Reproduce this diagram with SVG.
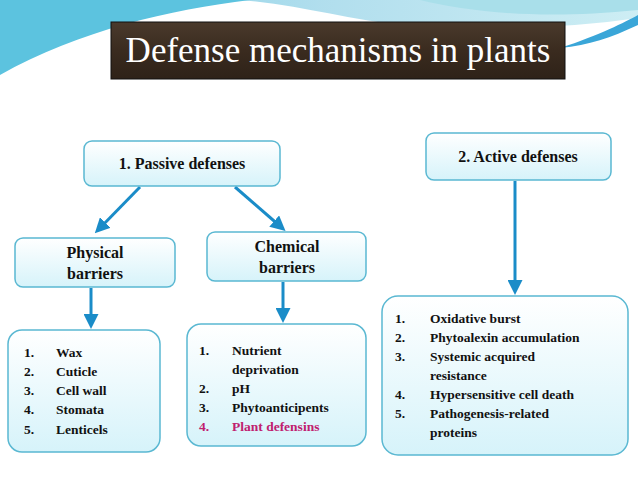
<svg xmlns="http://www.w3.org/2000/svg" width="638" height="479" viewBox="0 0 638 479">
<style>
.box{fill:url(#g);stroke:#5ab8d2;stroke-width:1.5}
.t{font-family:"Liberation Serif",serif;font-weight:bold;font-size:16px;fill:#111}
.l{font-family:"Liberation Serif",serif;font-weight:bold;font-size:13.5px;fill:#111}
.c{stroke:#1a8cc8;stroke-width:3;fill:none;marker-end:url(#a)}
.title{font-family:"Liberation Serif",serif;font-size:35px;fill:#fff}
</style>
<defs>
<linearGradient id="g" x1="0" y1="0" x2="0" y2="1"><stop offset="0" stop-color="#ffffff"/><stop offset="1" stop-color="#d6f3fa"/></linearGradient>
<linearGradient id="sky" x1="0" y1="0" x2="1" y2="0"><stop offset="0" stop-color="#3fb8d8"/><stop offset="0.5" stop-color="#8fd0e6"/><stop offset="1" stop-color="#b8e6ef"/></linearGradient>
<linearGradient id="wood" x1="0" y1="0" x2="0" y2="1"><stop offset="0" stop-color="#4a3a2c"/><stop offset="0.5" stop-color="#3a2b1f"/><stop offset="1" stop-color="#2e2218"/></linearGradient>
<marker id="a" markerWidth="5" markerHeight="5" refX="3" refY="2.5" orient="auto"><path d="M0,0 L5,2.5 L0,5 z" fill="#1a8cc8"/></marker>
</defs>
<rect width="638" height="479" fill="#fff"/>
<path d="M0,0 H638 V18 C560,30 450,30 400,25 C350,20 300,5 240,0 Z" fill="url(#sky)" opacity="0.7"/>
<path d="M0,0 H250 C170,10 80,30 0,75 Z" fill="#5cc3df"/>
<path d="M420,0 C470,12 540,20 638,10 V0 Z" fill="#a9dfea"/>
<path d="M560,48 C600,35 625,22 638,15 V25 C610,38 590,45 560,48 Z" fill="#3aa6d8"/>
<g id="title"><rect x="111" y="22" width="454" height="57" fill="url(#wood)" stroke="#111"/>
<text class="title" x="338" y="62" text-anchor="middle">Defense mechanisms in plants</text></g>
<g id="connectors">
<line class="c" x1="140" y1="187" x2="99" y2="229"/>
<line class="c" x1="235" y1="187" x2="281" y2="227"/>
<line class="c" x1="91" y1="288" x2="91" y2="323"/>
<line class="c" x1="283" y1="282" x2="283" y2="317"/>
<line class="c" x1="515" y1="181" x2="515" y2="289"/>
</g>
<g id="passive"><rect class="box" x="84" y="141" width="196" height="45" rx="8"/><text class="t" x="182" y="169" text-anchor="middle">1. Passive defenses</text></g>
<g id="active"><rect class="box" x="426" y="133" width="185" height="47" rx="8"/><text class="t" x="518" y="162" text-anchor="middle">2. Active defenses</text></g>
<g id="physical"><rect class="box" x="15" y="238" width="160" height="49" rx="8"/><text class="t" x="95" y="258" text-anchor="middle">Physical</text><text class="t" x="95" y="279" text-anchor="middle">barriers</text></g>
<g id="chemical"><rect class="box" x="207" y="232" width="159" height="49" rx="8"/><text class="t" x="287" y="252" text-anchor="middle">Chemical</text><text class="t" x="287" y="273" text-anchor="middle">barriers</text></g>
<g id="list1"><rect class="box" x="8" y="330" width="152" height="122" rx="14"/>
<text class="l" x="24" y="357">1.</text><text class="l" x="56" y="357">Wax</text>
<text class="l" x="24" y="376">2.</text><text class="l" x="56" y="376">Cuticle</text>
<text class="l" x="24" y="395">3.</text><text class="l" x="56" y="395">Cell wall</text>
<text class="l" x="24" y="414">4.</text><text class="l" x="56" y="414">Stomata</text>
<text class="l" x="24" y="434">5.</text><text class="l" x="56" y="434">Lenticels</text></g>
<g id="list2"><rect class="box" x="187" y="324" width="179" height="122" rx="14"/>
<text class="l" x="199" y="355">1.</text><text class="l" x="232" y="355">Nutrient</text>
<text class="l" x="232" y="374">deprivation</text>
<text class="l" x="199" y="393">2.</text><text class="l" x="232" y="393">pH</text>
<text class="l" x="199" y="412">3.</text><text class="l" x="232" y="412">Phytoanticipents</text>
<text class="l" x="199" y="431" style="fill:#c0206f">4.</text><text class="l" x="232" y="431" style="fill:#c0206f">Plant defensins</text></g>
<g id="list3"><rect class="box" x="382" y="296" width="246" height="159" rx="16"/>
<text class="l" x="395" y="323">1.</text><text class="l" x="430" y="323">Oxidative burst</text>
<text class="l" x="395" y="342">2.</text><text class="l" x="430" y="342">Phytoalexin accumulation</text>
<text class="l" x="395" y="361">3.</text><text class="l" x="430" y="361">Systemic acquired</text>
<text class="l" x="430" y="380">resistance</text>
<text class="l" x="395" y="399">4.</text><text class="l" x="430" y="399">Hypersensitive cell death</text>
<text class="l" x="395" y="418">5.</text><text class="l" x="430" y="418">Pathogenesis-related</text>
<text class="l" x="430" y="437">proteins</text></g>
</svg>
